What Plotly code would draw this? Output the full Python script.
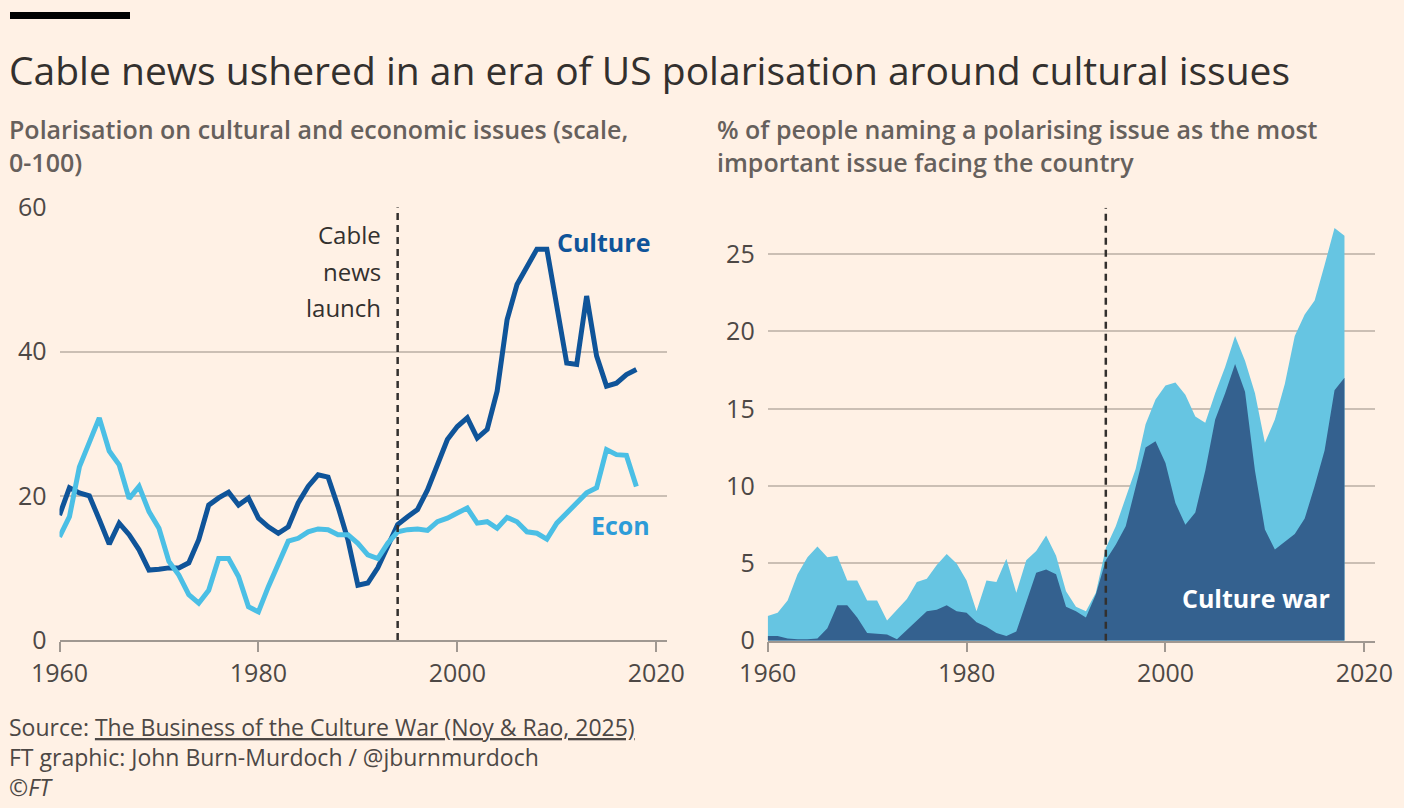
import plotly.graph_objects as go

# ---------------- data ----------------
years = list(range(1960, 2019))

culture = [17.3, 21.1, 20.4, 20.0, 16.7, 13.3, 16.2, 14.6, 12.5, 9.7,
           9.8, 10.0, 10.0, 10.7, 13.9, 18.7, 19.7, 20.5, 18.7, 19.7,
           16.9, 15.7, 14.8, 15.7, 19.0, 21.3, 22.9, 22.6, 18.5, 13.9,
           7.6, 7.9, 10.0, 13.0, 16.0, 17.1, 18.1, 20.8, 24.1, 27.8,
           29.6, 30.8, 28.0, 29.2, 34.5, 44.4, 49.3, 51.6, 54.2, 54.2,
           45.8, 38.4, 38.2, 47.7, 39.4, 35.2, 35.6, 36.8, 37.5]

econ = [14.3, 17.1, 24.0, 27.5, 30.8, 26.2, 24.3, 19.6, 21.3, 17.8,
        15.5, 10.9, 9.0, 6.3, 5.1, 6.9, 11.3, 11.3, 8.8, 4.6,
        3.9, 7.4, 10.6, 13.7, 14.1, 15.0, 15.4, 15.3, 14.6, 14.6,
        13.4, 11.8, 11.3, 13.4, 15.0, 15.3, 15.4, 15.2, 16.4, 16.9,
        17.6, 18.3, 16.2, 16.4, 15.5, 17.0, 16.4, 15.0, 14.8, 14.0,
        16.2, 17.6, 19.2, 20.4, 21.1, 26.4, 25.7, 25.6, 21.3]

all_polarising = [1.6, 1.8, 2.6, 4.3, 5.4, 6.1, 5.4, 5.5, 3.9, 3.9,
                  2.6, 2.6, 1.3, 2.0, 2.7, 3.8, 4.0, 4.9, 5.6, 5.0,
                  3.9, 1.9, 3.9, 3.8, 5.3, 3.1, 5.2, 5.8, 6.8, 5.5,
                  3.2, 2.2, 1.9, 3.1, 6.0, 7.4, 9.3, 11.1, 14.0, 15.6,
                  16.5, 16.7, 15.9, 14.5, 14.1, 16.0, 17.7, 19.7, 18.1, 16.0,
                  12.8, 14.3, 16.6, 19.7, 21.1, 22.0, 24.3, 26.7, 26.2]

culture_war = [0.3, 0.3, 0.15, 0.1, 0.1, 0.15, 0.8, 2.3, 2.3, 1.5,
               0.5, 0.45, 0.4, 0.1, 0.7, 1.3, 1.9, 2.0, 2.3, 1.9,
               1.8, 1.2, 0.9, 0.5, 0.3, 0.6, 2.5, 4.4, 4.6, 4.3,
               2.2, 1.9, 1.5, 3.0, 5.2, 6.2, 7.4, 10.0, 12.5, 12.9,
               11.5, 8.9, 7.5, 8.3, 11.0, 14.3, 16.0, 17.9, 16.1, 11.0,
               7.2, 5.9, 6.4, 6.9, 7.9, 10.0, 12.3, 16.2, 17.0]

cable_launch_year = 1994
x_ticks = [1960, 1980, 2000, 2020]
left_y_ticks = [0, 20, 40, 60]
right_y_ticks = [0, 5, 10, 15, 20, 25]

# ---------------- style ----------------
W, H = 1404, 808
BG = "#fff1e5"
FONT = "Open Sans"
TXT = "#33302e"
TICK = "#4d4845"
GRID = "#cbbfb4"
AXIS = "#a09891"
C_CULT = "#0f5499"
C_ECON = "#4bbfe5"
C_ECON_LBL = "#2d9cd8"
C_AREA_L = "#66c5e2"
C_AREA_D = "#34618f"


def px(x):
    return x / W


def py(y):
    return 1 - y / H


fig = go.Figure()

# left chart lines
fig.add_trace(go.Scatter(x=years, y=culture, mode="lines",
                         line=dict(color=C_CULT, width=5),
                         xaxis="x", yaxis="y", hoverinfo="skip"))
fig.add_trace(go.Scatter(x=years, y=econ, mode="lines",
                         line=dict(color=C_ECON, width=5),
                         xaxis="x", yaxis="y", hoverinfo="skip"))

# right chart areas
fig.add_trace(go.Scatter(x=years, y=all_polarising, mode="lines",
                         line=dict(width=0, color=C_AREA_L),
                         fill="tozeroy", fillcolor=C_AREA_L,
                         xaxis="x2", yaxis="y2", hoverinfo="skip"))
fig.add_trace(go.Scatter(x=years, y=culture_war, mode="lines",
                         line=dict(width=0, color=C_AREA_D),
                         fill="tozeroy", fillcolor=C_AREA_D,
                         xaxis="x2", yaxis="y2", hoverinfo="skip"))

xaxis_common = dict(range=[1960, 2021.05], tickvals=x_ticks,
                    ticks="outside", ticklen=10, tickwidth=1.5, tickcolor=AXIS,
                    showline=True, linecolor=AXIS, linewidth=1.5,
                    showgrid=False, zeroline=False, automargin=False,
                    tickfont=dict(family=FONT, size=25, color=TICK),
                    fixedrange=True)
yaxis_common = dict(showline=False, ticks="", showgrid=True, gridcolor=GRID,
                    gridwidth=1.5, zeroline=False, automargin=False,
                    tickfont=dict(family=FONT, size=25, color=TICK),
                    ticklabelstandoff=12, fixedrange=True)

fig.update_layout(
    width=W, height=H,
    margin=dict(l=0, r=0, t=0, b=0, pad=0, autoexpand=False),
    paper_bgcolor=BG, plot_bgcolor=BG,
    showlegend=False,
    xaxis=dict(domain=[px(59.5), px(666.7)], anchor="y", **xaxis_common),
    yaxis=dict(domain=[py(640), py(207.3)], range=[0, 60],
               tickvals=left_y_ticks, anchor="x", **yaxis_common),
    xaxis2=dict(domain=[px(767.7), px(1374.8)], anchor="y2", **xaxis_common),
    yaxis2=dict(domain=[py(640.7), py(207.8)], range=[0, 28],
                tickvals=right_y_ticks, anchor="x2", **yaxis_common),
)

# cable launch dashed lines
fig.add_shape(type="line", xref="x", yref="y", x0=cable_launch_year,
              x1=cable_launch_year, y0=0, y1=60,
              line=dict(color=TXT, width=2.5, dash="7px,5px"))
fig.add_shape(type="line", xref="x2", yref="y2", x0=cable_launch_year,
              x1=cable_launch_year, y0=0, y1=28,
              line=dict(color=TXT, width=2.5, dash="7px,5px"))

# top black bar
fig.add_shape(type="rect", xref="paper", yref="paper",
              x0=px(10), x1=px(130), y0=py(19), y1=py(12),
              fillcolor="#000000", line=dict(width=0))


def text(x, y, s, size, color, xanchor="left", weight="normal", align="left"):
    fig.add_annotation(x=px(x), y=py(y), xref="paper", yref="paper",
                       text=s, showarrow=False, xanchor=xanchor,
                       yanchor="middle", align=align,
                       font=dict(family=FONT, size=size, color=color,
                                 weight=weight))


# title & subtitles
text(7, 70, "Cable news ushered in an era of US polarisation around cultural issues", 39, TXT)
SUB = "#66605c"
text(7, 146, "Polarisation on cultural and economic issues (scale,<br>0-100)", 25, SUB, weight=600)
text(715, 146, "% of people naming a polarising issue as the most<br>important issue facing the country", 25, SUB, weight=600)

# in-chart labels
text(383, 235, "Cable", 24, TXT, xanchor="right")
text(383, 271, "news", 24, TXT, xanchor="right")
text(383, 307, "launch", 24, TXT, xanchor="right")
text(652, 242, "Culture", 25, C_CULT, xanchor="right", weight="bold")
text(652, 525, "Econ", 25, C_ECON_LBL, xanchor="right", weight="bold")
text(1332, 598, "Culture war", 25, "#ffffff", xanchor="right", weight="bold")

# footer
FOOT = "#4d4845"
text(7, 757,
     "Source: <span style=\"text-decoration:underline\">The Business of the Culture War (Noy &amp; Rao, 2025)</span>"
     "<br>FT graphic: John Burn-Murdoch / @jburnmurdoch<br><i>©FT</i>",
     23, FOOT)

fig.write_html("out.html")
